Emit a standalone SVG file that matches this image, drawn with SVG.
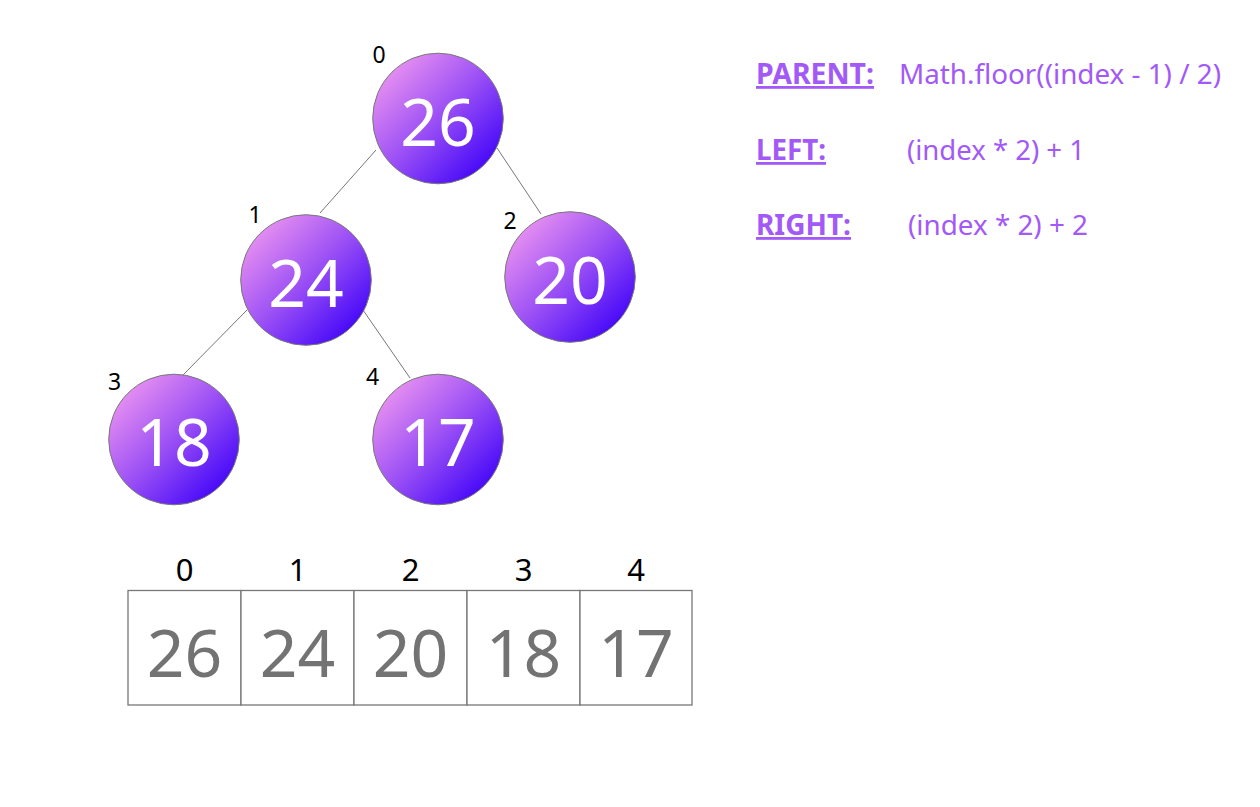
<svg xmlns="http://www.w3.org/2000/svg" width="1260" height="807" viewBox="0 0 1260 807">
<defs>
<linearGradient id="g" x1="0.15" y1="0.15" x2="0.85" y2="0.85">
<stop offset="0" stop-color="#e18bf1"/>
<stop offset="0.5" stop-color="#9a4ff5"/>
<stop offset="1" stop-color="#4a0cf8"/>
</linearGradient>
<style>
.n{fill:url(#g);stroke:#777;stroke-width:1}
.v{font-family:"Noto Sans","Open Sans",sans-serif;font-size:66px;fill:#fff;text-anchor:middle}
.i{font-family:"Noto Sans","Open Sans",sans-serif;font-size:23px;fill:#000;text-anchor:middle}
.e{stroke:#777;stroke-width:1;fill:none}
.c{fill:#fff;stroke:#777;stroke-width:1.3}
.a{font-family:"Noto Sans","Open Sans",sans-serif;font-size:66px;fill:#737373;text-anchor:middle}
.ai{font-family:"Noto Sans","Open Sans",sans-serif;font-size:31px;fill:#000;text-anchor:middle}
.k{font-family:"Noto Sans","Open Sans",sans-serif;font-size:28px;fill:#a259f7;font-weight:bold;text-decoration:underline}
.f{font-family:"Noto Sans","Open Sans",sans-serif;font-size:28px;fill:#a259f7}
</style>
</defs>
<rect width="1260" height="807" fill="#fff"/>
<g id="connectors">
<line class="e" x1="376" y1="150" x2="320" y2="213"/>
<line class="e" x1="497" y1="148" x2="541" y2="214"/>
<line class="e" x1="247" y1="310" x2="183" y2="375"/>
<line class="e" x1="363" y1="310" x2="410" y2="378"/>
</g>
<g id="node0">
<circle class="n" cx="438" cy="118.5" r="65.3"/>
<text class="v" x="438" y="146">26</text>
<text class="i" x="379" y="63">0</text>
</g>
<g id="node1">
<circle class="n" cx="306" cy="280" r="65.3"/>
<text class="v" x="306" y="307">24</text>
<text class="i" x="255" y="223">1</text>
</g>
<g id="node2">
<circle class="n" cx="570" cy="277" r="65.3"/>
<text class="v" x="570" y="304">20</text>
<text class="i" x="510" y="229">2</text>
</g>
<g id="node3">
<circle class="n" cx="174" cy="439.5" r="65.3"/>
<text class="v" x="174" y="466">18</text>
<text class="i" x="114.5" y="390">3</text>
</g>
<g id="node4">
<circle class="n" cx="438" cy="439.5" r="65.3"/>
<text class="v" x="438" y="466">17</text>
<text class="i" x="372.5" y="385">4</text>
</g>
<g id="array">
<rect class="c" x="128" y="590.5" width="113" height="114.5"/>
<rect class="c" x="241" y="590.5" width="113" height="114.5"/>
<rect class="c" x="354" y="590.5" width="113" height="114.5"/>
<rect class="c" x="467" y="590.5" width="113" height="114.5"/>
<rect class="c" x="580" y="590.5" width="112" height="114.5"/>
<text class="a" x="184.5" y="677">26</text>
<text class="a" x="297.5" y="677">24</text>
<text class="a" x="410.5" y="677">20</text>
<text class="a" x="523.5" y="677">18</text>
<text class="a" x="636" y="677">17</text>
<text class="ai" x="184.5" y="581">0</text>
<text class="ai" x="297.5" y="581">1</text>
<text class="ai" x="410.5" y="581">2</text>
<text class="ai" x="523.5" y="581">3</text>
<text class="ai" x="636" y="581">4</text>
</g>
<g id="formulas">
<text class="k" x="756" y="84" textLength="118" lengthAdjust="spacingAndGlyphs">PARENT:</text>
<text class="f" x="899" y="84" textLength="322" lengthAdjust="spacingAndGlyphs">Math.floor((index - 1) / 2)</text>
<text class="k" x="756" y="160" textLength="70" lengthAdjust="spacingAndGlyphs">LEFT:</text>
<text class="f" x="907" y="160" textLength="178" lengthAdjust="spacingAndGlyphs">(index * 2) + 1</text>
<text class="k" x="756" y="235" textLength="95" lengthAdjust="spacingAndGlyphs">RIGHT:</text>
<text class="f" x="908" y="235" textLength="180" lengthAdjust="spacingAndGlyphs">(index * 2) + 2</text>
</g>
</svg>
